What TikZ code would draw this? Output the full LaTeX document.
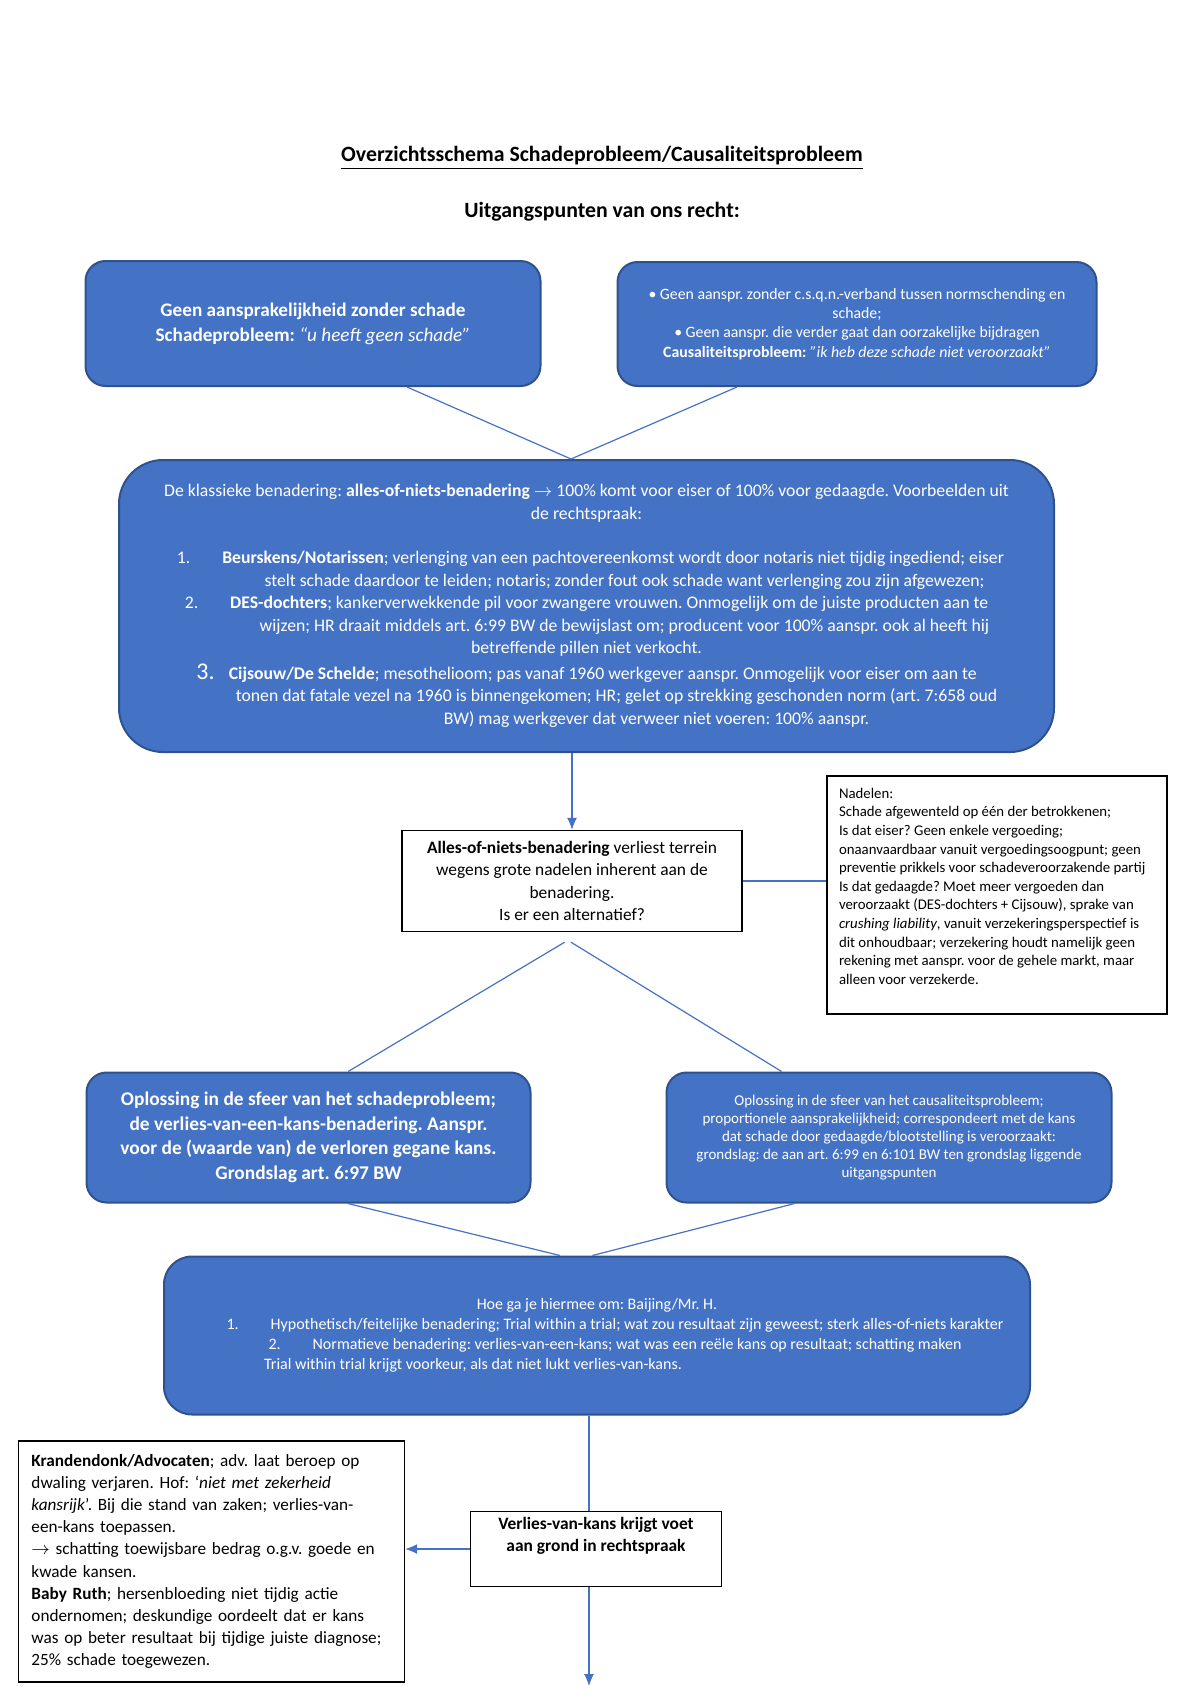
\documentclass[tikz,border=0pt]{standalone}
\usepackage{fontspec}
\setmainfont{Carlito}
\usetikzlibrary{arrows.meta}
\definecolor{officeblue}{RGB}{68,114,196}
\definecolor{officeedge}{RGB}{47,82,143}
\frenchspacing

\tikzset{
  bluebox/.style={draw=officeedge, fill=officeblue, line width=1pt, text=white, align=center, inner sep=2pt},
  plainbox/.style={draw=black, fill=white, line width=0.7pt, inner sep=2pt},
  link/.style={draw=officeblue, line width=0.6pt},
  arrowlink/.style={link, -{Latex[length=6pt,width=5pt]}}
}

\begin{document}
\begin{tikzpicture}[x=0.5pt, y=-0.5pt]
    \useasboundingbox (0,0) rectangle (1200,1698);

    % Titles
    \node[font=\fontsize{10.9}{12}\selectfont\bfseries] (title) at (602,158) {\underline{Overzichtsschema Schadeprobleem/Causaliteitsprobleem}};
    \node[font=\fontsize{10.9}{12}\selectfont\bfseries] (subtitle) at (602,212) {Uitgangspunten van ons recht:};

    % Uitgangspunten
    \node[bluebox, rounded corners=10pt, minimum width=227.5pt, minimum height=62.5pt,
          font=\fontsize{9.6}{12.5}\selectfont\bfseries] (schade) at (313,323.5)
        {Geen aansprakelijkheid zonder schade\\
         Schadeprobleem: \textit{\mdseries “u heeft geen schade”}};
    \node[bluebox, rounded corners=10pt, minimum width=239.5pt, minimum height=62pt,
          font=\fontsize{7.9}{9.7}\selectfont] (causaal) at (857,324)
        {\textbullet~Geen aanspr. zonder c.s.q.n.-verband tussen normschending en\\
         schade;\\
         \textbullet~Geen aanspr. die verder gaat dan oorzakelijke bijdragen\\
         \textbf{Causaliteitsprobleem:} \textit{"ik heb deze schade niet veroorzaakt"}};

    % Klassieke benadering
    \node[bluebox, rounded corners=22pt, minimum width=467.5pt, minimum height=146pt,
          font=\fontsize{8.85}{11.25}\selectfont] (klassiek) at (586.5,606)
        {De klassieke benadering: \textbf{alles-of-niets-benadering} $\rightarrow$ 100\% komt voor eiser of 100\% voor gedaagde. Voorbeelden uit\\
         de rechtspraak:\\[11pt]
         \hspace*{4pt}1.\hspace{1.8em}\textbf{Beurskens/Notarissen}; verlenging van een pachtovereenkomst wordt door notaris niet tijdig ingediend; eiser\\
         \hspace*{38pt}stelt schade daardoor te leiden; notaris; zonder fout ook schade want verlenging zou zijn afgewezen;\\
         2.\hspace{1.8em}\textbf{DES-dochters}; kankerverwekkende pil voor zwangere vrouwen. Onmogelijk om de juiste producten aan te\\
         \hspace*{38pt}wijzen; HR draait middels art. 6:99 BW de bewijslast om; producent voor 100\% aanspr. ook al heeft hij\\
         betreffende pillen niet verkocht.\\[1.5pt]
         {\fontsize{12}{12}\selectfont 3.}\hspace{0.8em}\textbf{Cijsouw/De Schelde}; mesothelioom; pas vanaf 1960 werkgever aanspr. Onmogelijk voor eiser om aan te\\
         \hspace*{30pt}tonen dat fatale vezel na 1960 is binnengekomen; HR; gelet op strekking geschonden norm (art. 7:658 oud\\
         \hspace*{70pt}BW) mag werkgever dat verweer niet voeren: 100\% aanspr.};

    % Verliest terrein + nadelen
    \node[plainbox, align=center, minimum width=170pt, minimum height=50.5pt,
          font=\fontsize{8.7}{11.2}\selectfont] (terrein) at (572,881)
        {\textbf{Alles-of-niets-benadering} verliest terrein\\
         wegens grote nadelen inherent aan de\\
         benadering.\\
         Is er een alternatief?};
    \node[plainbox, inner sep=6pt] (nadelen) at (997,895)
        {\parbox[c][107pt][t]{158pt}{\raggedright\fontsize{7.4}{9.3}\selectfont
         Nadelen:\\
         Schade afgewenteld op één der betrokkenen;\\
         Is dat eiser? Geen enkele vergoeding;\\
         onaanvaardbaar vanuit vergoedingsoogpunt; geen\\
         preventie prikkels voor schadeveroorzakende partij\\
         Is dat gedaagde? Moet meer vergoeden dan\\
         veroorzaakt (DES-dochters + Cijsouw), sprake van\\
         \textit{crushing liability}, vanuit verzekeringsperspectief is\\
         dit onhoudbaar; verzekering houdt namelijk geen\\
         rekening met aanspr. voor de gehele markt, maar\\
         alleen voor verzekerde.}};

    % Oplossingen
    \node[bluebox, rounded corners=10pt, minimum width=222pt, minimum height=65pt,
          font=\fontsize{9.7}{12.3}\selectfont\bfseries] (schadeopl) at (308.5,1137.5)
        {Oplossing in de sfeer van het schadeprobleem;\\
         de verlies-van-een-kans-benadering. Aanspr.\\
         voor de (waarde van) de verloren gegane kans.\\
         Grondslag art. 6:97 BW};
    \node[bluebox, rounded corners=10pt, minimum width=222.5pt, minimum height=65pt,
          font=\fontsize{7.5}{9.1}\selectfont] (causaalopl) at (889,1137.5)
        {Oplossing in de sfeer van het causaliteitsprobleem;\\
         proportionele aansprakelijkheid; correspondeert met de kans\\
         dat schade door gedaagde/blootstelling is veroorzaakt:\\
         grondslag: de aan art. 6:99 en 6:101 BW ten grondslag liggende\\
         uitgangspunten};

    % Baijing
    \node[bluebox, rounded corners=14pt, minimum width=433pt, minimum height=79pt,
          font=\fontsize{8}{10}\selectfont] (baijing) at (597,1335.5)
        {Hoe ga je hiermee om: Baijing/Mr. H.\\
         \hspace*{18pt}1.\hspace{2em}Hypothetisch/feitelijke benadering; Trial within a trial; wat zou resultaat zijn geweest; sterk alles-of-niets karakter\\
         \hspace*{18pt}2.\hspace{2em}Normatieve benadering: verlies-van-een-kans; wat was een reële kans op resultaat; schatting maken\\
         Trial within trial krijgt voorkeur, als dat niet lukt verlies-van-kans.\hspace{124pt}\mbox{}};

    % Rechtspraak
    \node[plainbox, align=center, minimum width=125.5pt, minimum height=37.5pt,
          font=\fontsize{8.7}{11}\selectfont\bfseries] (voet) at (596,1549)
        {Verlies-van-kans krijgt voet\\aan grond in rechtspraak\\[4pt]};
    \node[plainbox, align=left, text width=180pt, inner sep=6.5pt, minimum height=120.5pt,
          font=\fontsize{8.6}{11.1}\selectfont] (kranendonk) at (211.5,1561.5)
        {\textbf{Krandendonk/Advocaten}; adv. laat beroep op\\
         dwaling verjaren. Hof: ‘\textit{niet met zekerheid}\\
         \textit{kansrijk}’. Bij die stand van zaken; verlies-van-\\
         een-kans toepassen.\\
         $\rightarrow$ schatting toewijsbare bedrag o.g.v. goede en\\
         kwade kansen.\\
         \textbf{Baby Ruth}; hersenbloeding niet tijdig actie\\
         ondernomen; deskundige oordeelt dat er kans\\
         was op beter resultaat bij tijdige juiste diagnose;\\
         25\% schade toegewezen.};
    \coordinate (einde) at (589,1686);

    % Connectors
    \draw[link] ([xshift=47pt]schade.south) -- ([xshift=-7.75pt]klassiek.north);
    \draw[link] ([xshift=-60pt]causaal.south) -- ([xshift=-7.75pt]klassiek.north);
    \draw[arrowlink] (terrein.north |- klassiek.south) -- (terrein.north);
    \draw[link] (terrein.east) -- (terrein.east -| nadelen.west);
    \draw[link] ([xshift=-3.7pt,yshift=-5pt]terrein.south) -- ([xshift=19.8pt]schadeopl.north);
    \draw[link] ([xshift=-0.5pt,yshift=-5pt]terrein.south) -- ([xshift=-53.7pt]causaalopl.north);
    \draw[link] ([xshift=19.7pt]schadeopl.south) -- ([xshift=-18.5pt]baijing.north);
    \draw[link] ([xshift=-47.2pt]causaalopl.south) -- ([xshift=-2.3pt]baijing.north);
    \draw[link] ([xshift=-4pt]baijing.south) -- ([xshift=-3.5pt]voet.north);
    \draw[arrowlink] (voet.west) -- (voet.west -| kranendonk.east);
    \draw[arrowlink] ([xshift=-3.5pt]voet.south) -- (einde);
\end{tikzpicture}
\end{document}
